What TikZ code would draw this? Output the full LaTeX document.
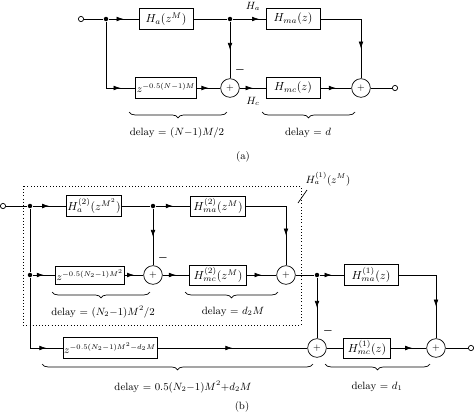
\documentclass[tikz,border=0pt]{standalone}
\usepackage{tikz}
\usetikzlibrary{arrows.meta, positioning, decorations.markings,
                decorations.pathreplacing}
\usepackage{amsmath}

\begin{document}
\begin{tikzpicture}[x=0.03cm, y=-0.03cm, line width=0.6pt,
          blk/.style={draw, rectangle, minimum height=0.64cm, inner sep=1pt,
                      font=\normalsize},
          dlb/.style={blk, font=\small},
          sum/.style={draw, circle, inner sep=0pt, minimum size=0.56cm,
                      font=\footnotesize},
          dot/.style={circle, fill, inner sep=0pt, minimum size=3.8pt},
          term/.style={draw, circle, fill=white, inner sep=0pt, minimum size=4.5pt},
          midarr/.style={postaction={decorate}, decoration={markings,
              mark=at position #1 with {\arrow{Latex[length=6pt,width=4pt]}}}},
          midarr/.default=0.5,
          brc/.style={decorate, decoration={brace, mirror, amplitude=5pt}},
          lbl/.style={font=\small}
        ]
        \useasboundingbox (0,0) rectangle (474,414);

        % (a) upper path
        \node[term] (inA) at (81,19) {};
        \node[dot] (dA) at (106,19) {};
        \node[blk, minimum width=1.62cm] (ha) at (166,19) {$H_a(z^M)$};
        \node[dot] (dB) at (230,19) {};
        \node[blk, minimum width=1.62cm] (hma) at (293,19) {$H_{ma}(z)$};
        \coordinate (cA) at (361,19);

        % (a) lower path
        \coordinate (cLa) at (106,88);
        \node[dlb, minimum width=1.62cm] (dlA) at (166,88) {$z^{-0.5(N-1)M}$};
        \node[sum] (sA1) at (230,88) {$+$};
        \node[blk, minimum width=1.62cm] (hmc) at (293,88) {$H_{mc}(z)$};
        \node[sum] (sA2) at (361,88) {$+$};
        \node[term] (outA) at (395,88) {};

        \draw (inA)--(dA);
        \draw[midarr] (dA)--(ha);
        \draw (ha)--(dB);
        \draw[midarr=0.8] (dB)--(hma);
        \draw (hma)--(cA);
        \draw[midarr] (cA)--(sA2);
        \draw (dA)--(cLa);
        \draw[midarr] (cLa)--(dlA);
        \draw[midarr] (dlA)--(sA1);
        \draw[midarr] (dB)--(sA1);
        \draw[midarr] (sA1)--(hmc);
        \draw[midarr] (hmc)--(sA2);
        \draw (sA2)--(outA);

        \node[lbl] (tHa) at (253,6) {$H_a$};
        \node[lbl] (tHc) at (253,101) {$H_c$};
        \node[lbl] (mA) at (240,70) {$\boldsymbol{-}$};

        \draw[brc] (129,112)--(227,112);
        \draw[brc] (262,112)--(355,112);
        \node[lbl] (dlyA1) at (177,133) {delay = $(N{-}1)M/2$};
        \node[lbl] (dlyA2) at (308,133) {delay = $d$};
        \node[lbl] (capA) at (243,157) {(a)};

        % (b) inner structure, dotted
        \draw[dotted, line width=0.7pt] (23,186) rectangle (301,325);
        \node[lbl] (tHd) at (328,179) {$H_a^{(1)}(z^M)$};
        \coordinate (pHd1) at (307,190);
        \coordinate (pHd2) at (298,203);
        \draw (pHd1) -- (pHd2);

        \node[term] (inB) at (3,206) {};
        \node[dot] (dC) at (30,206) {};
        \node[blk, minimum width=1.62cm, minimum height=0.62cm] (ha2) at (94,206)
              {$H_a^{(2)}(z^{M^2})$};
        \node[dot] (dD) at (153,206) {};
        \node[blk, minimum width=1.65cm, minimum height=0.6cm] (hma2) at (218,206)
              {$H_{ma}^{(2)}(z^M)$};
        \coordinate (cB) at (286,206);

        \node[dot] (dE) at (30,275) {};
        \node[dlb, minimum width=1.86cm, minimum height=0.54cm] (dl2) at (90,275)
              {$z^{-0.5(N_2-1)M^2}$};
        \node[sum] (sB2) at (153,275) {$+$};
        \node[blk, minimum width=1.71cm, minimum height=0.6cm] (hmc2) at (218,275)
              {$H_{mc}^{(2)}(z^M)$};
        \node[sum] (sB1) at (286,275) {$+$};

        % (b) outer structure
        \node[dot] (dF) at (317,275) {};
        \node[blk, minimum width=1.62cm, minimum height=0.62cm] (hma1) at (371,275)
              {$H_{ma}^{(1)}(z)$};
        \coordinate (cC) at (436,275);

        \coordinate (cLb) at (30,348);
        \node[dlb, minimum width=2.7cm, minimum height=0.64cm] (dl3) at (110,348)
              {$z^{-0.5(N_2-1)M^2-d_2M}$};
        \node[sum] (sB3) at (317,348) {$+$};
        \node[blk, minimum width=1.42cm, minimum height=0.6cm] (hmc1) at (367,348)
              {$H_{mc}^{(1)}(z)$};
        \node[sum] (sB4) at (436,348) {$+$};
        \node[term] (outB) at (471,348) {};

        \draw (inB)--(dC);
        \draw[midarr] (dC)--(ha2);
        \draw (ha2)--(dD);
        \draw[midarr] (dD)--(hma2);
        \draw (hma2)--(cB);
        \draw[midarr] (cB)--(sB1);
        \draw (dC)--(dE);
        \draw[midarr] (dE)--(dl2);
        \draw[midarr] (dl2)--(sB2);
        \draw[midarr] (dD)--(sB2);
        \draw[midarr] (sB2)--(hmc2);
        \draw[midarr] (hmc2)--(sB1);
        \draw (sB1)--(dF);
        \draw[midarr] (dF)--(hma1);
        \draw (hma1)--(cC);
        \draw[midarr] (cC)--(sB4);
        \draw (dE)--(cLb);
        \draw[midarr] (cLb)--(dl3);
        \draw[midarr] (dl3)--(sB3);
        \draw[midarr] (dF)--(sB3);
        \draw (sB3)--(hmc1);
        \draw[midarr=0.6] (hmc1)--(sB4);
        \draw (sB4)--(outB);

        \node[lbl] (mB1) at (163,258) {$\boldsymbol{-}$};
        \node[lbl] (mB2) at (328,331) {$\boldsymbol{-}$};

        \draw[brc] (52,292)--(150,292);
        \draw[brc] (185,292)--(278,292);
        \draw[brc] (42,364)--(313,364);
        \draw[brc] (325,364)--(430,364);
        \node[lbl] (dlyB1) at (103,312) {delay = $(N_2{-}1)M^2/2$};
        \node[lbl] (dlyB2) at (233,312) {delay = $d_2M$};
        \node[lbl] (dlyB3) at (183,387) {delay = $0.5(N_2{-}1)M^2{+}d_2M$};
        \node[lbl] (dlyB4) at (377,387) {delay = $d_1$};
        \node[lbl] (capB) at (242,407) {(b)};
      \end{tikzpicture}
\end{document}
